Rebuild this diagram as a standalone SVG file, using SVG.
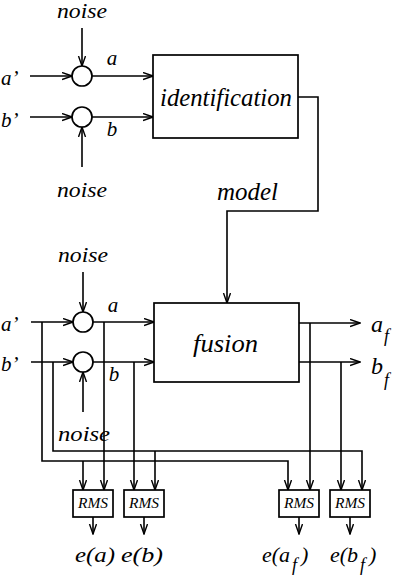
<svg xmlns="http://www.w3.org/2000/svg" width="400" height="580" viewBox="0 0 400 580">
<defs>
<marker id="arr" markerWidth="11" markerHeight="9" refX="10" refY="4" orient="auto" markerUnits="userSpaceOnUse">
<path d="M0,0.5 L10,4 L0,7.5" fill="none" stroke="#000" stroke-width="1.4"/>
</marker>
<style>
text{font-family:"Liberation Serif","DejaVu Serif",serif;font-style:italic;fill:#000}
.c{text-anchor:middle}
.ar{fill:none;stroke:#000;stroke-width:1.6;marker-end:url(#arr)}
.box{fill:#fff;stroke:#000;stroke-width:1.7}
.lbl{font-size:21px}
.big{font-size:25px}
.rms{font-size:14px}
</style>
</defs>
<rect width="400" height="580" fill="#fff"/>

<g id="connectors">
<path class="ar" d="M82,28 V66"/>
<path class="ar" d="M30,76 H72"/>
<path class="ar" d="M92,76 H153"/>
<path class="ar" d="M30,117 H72"/>
<path class="ar" d="M92,117 H153"/>
<path class="ar" d="M82,167 V127"/>
<path class="ar" d="M298,97 H318 V211 H227 V303"/>
<path class="ar" d="M83,272 V312"/>
<path class="ar" d="M31,322 H73"/>
<path class="ar" d="M93,322 H154"/>
<path class="ar" d="M31,362 H73"/>
<path class="ar" d="M93,362 H154"/>
<path class="ar" d="M83,412 V372"/>
<path class="ar" d="M299,323 H360"/>
<path class="ar" d="M299,362 H360"/>
<path class="ar" d="M42,322 V461 H288 V490"/>
<path class="ar" d="M83,461 V490"/>
<path class="ar" d="M53,362 V451 H362 V490"/>
<path class="ar" d="M155,451 V490"/>
<path class="ar" d="M104,322 V490"/>
<path class="ar" d="M134,362 V490"/>
<path class="ar" d="M310,323 V490"/>
<path class="ar" d="M341,362 V490"/>
<path class="ar" d="M93,517 V534"/>
<path class="ar" d="M144,517 V534"/>
<path class="ar" d="M299,517 V534"/>
<path class="ar" d="M350,517 V534"/>
</g>

<g id="sum-a-top"><circle cx="82" cy="76" r="10" class="box"/></g>
<g id="sum-b-top"><circle cx="82" cy="117" r="10" class="box"/></g>
<g id="sum-a-low"><circle cx="83" cy="322" r="10" class="box"/></g>
<g id="sum-b-low"><circle cx="83" cy="362" r="10" class="box"/></g>

<g id="identification">
<rect x="153" y="55" width="145" height="83" class="box"/>
<text x="226" y="106" class="c big" textLength="132" lengthAdjust="spacingAndGlyphs">identification</text>
</g>
<g id="fusion">
<rect x="154" y="303" width="145" height="79" class="box"/>
<text x="225.5" y="352" class="c big" textLength="65" lengthAdjust="spacingAndGlyphs">fusion</text>
</g>

<g id="rms-a"><rect x="73" y="490" width="40" height="27" class="box"/><text x="93" y="508" class="c rms" textLength="30" lengthAdjust="spacingAndGlyphs">RMS</text></g>
<g id="rms-b"><rect x="124" y="490" width="40" height="27" class="box"/><text x="144" y="508" class="c rms" textLength="30" lengthAdjust="spacingAndGlyphs">RMS</text></g>
<g id="rms-af"><rect x="279" y="490" width="40" height="27" class="box"/><text x="299" y="508" class="c rms" textLength="30" lengthAdjust="spacingAndGlyphs">RMS</text></g>
<g id="rms-bf"><rect x="330" y="490" width="40" height="27" class="box"/><text x="350" y="508" class="c rms" textLength="30" lengthAdjust="spacingAndGlyphs">RMS</text></g>

<g id="labels">
<text x="82" y="18" class="c lbl" textLength="50" lengthAdjust="spacingAndGlyphs">noise</text>
<text x="82" y="197" class="c lbl" textLength="50" lengthAdjust="spacingAndGlyphs">noise</text>
<text x="83" y="262" class="c lbl" textLength="50" lengthAdjust="spacingAndGlyphs">noise</text>
<text x="84" y="441" class="c lbl" textLength="52" lengthAdjust="spacingAndGlyphs">noise</text>
<text x="1" y="85" class="lbl">a’</text>
<text x="1" y="127" class="lbl">b’</text>
<text x="1" y="331" class="lbl">a’</text>
<text x="1" y="371" class="lbl">b’</text>
<text x="112" y="65" class="c lbl">a</text>
<text x="112" y="136" class="c lbl">b</text>
<text x="113" y="312" class="c lbl">a</text>
<text x="114" y="381" class="c lbl">b</text>
<text x="247.5" y="200" class="c big" textLength="61" lengthAdjust="spacingAndGlyphs">model</text>
<text x="371" y="332" font-size="24">a<tspan dy="10" dx="1" font-size="18">f</tspan></text>
<text x="371" y="374" font-size="24">b<tspan dy="12" dx="1" font-size="18">f</tspan></text>
<text x="95" y="562" class="c" font-size="22" textLength="40" lengthAdjust="spacingAndGlyphs">e(a)</text>
<text x="142" y="562" class="c" font-size="22" textLength="42" lengthAdjust="spacingAndGlyphs">e(b)</text>
<text x="262" y="562" font-size="22">e(a<tspan dy="9" dx="2" font-size="18">f</tspan><tspan dy="-9" dx="4">)</tspan></text>
<text x="330" y="562" font-size="22">e(b<tspan dy="9" dx="2" font-size="18">f</tspan><tspan dy="-9" dx="4">)</tspan></text>
</g>
</svg>
